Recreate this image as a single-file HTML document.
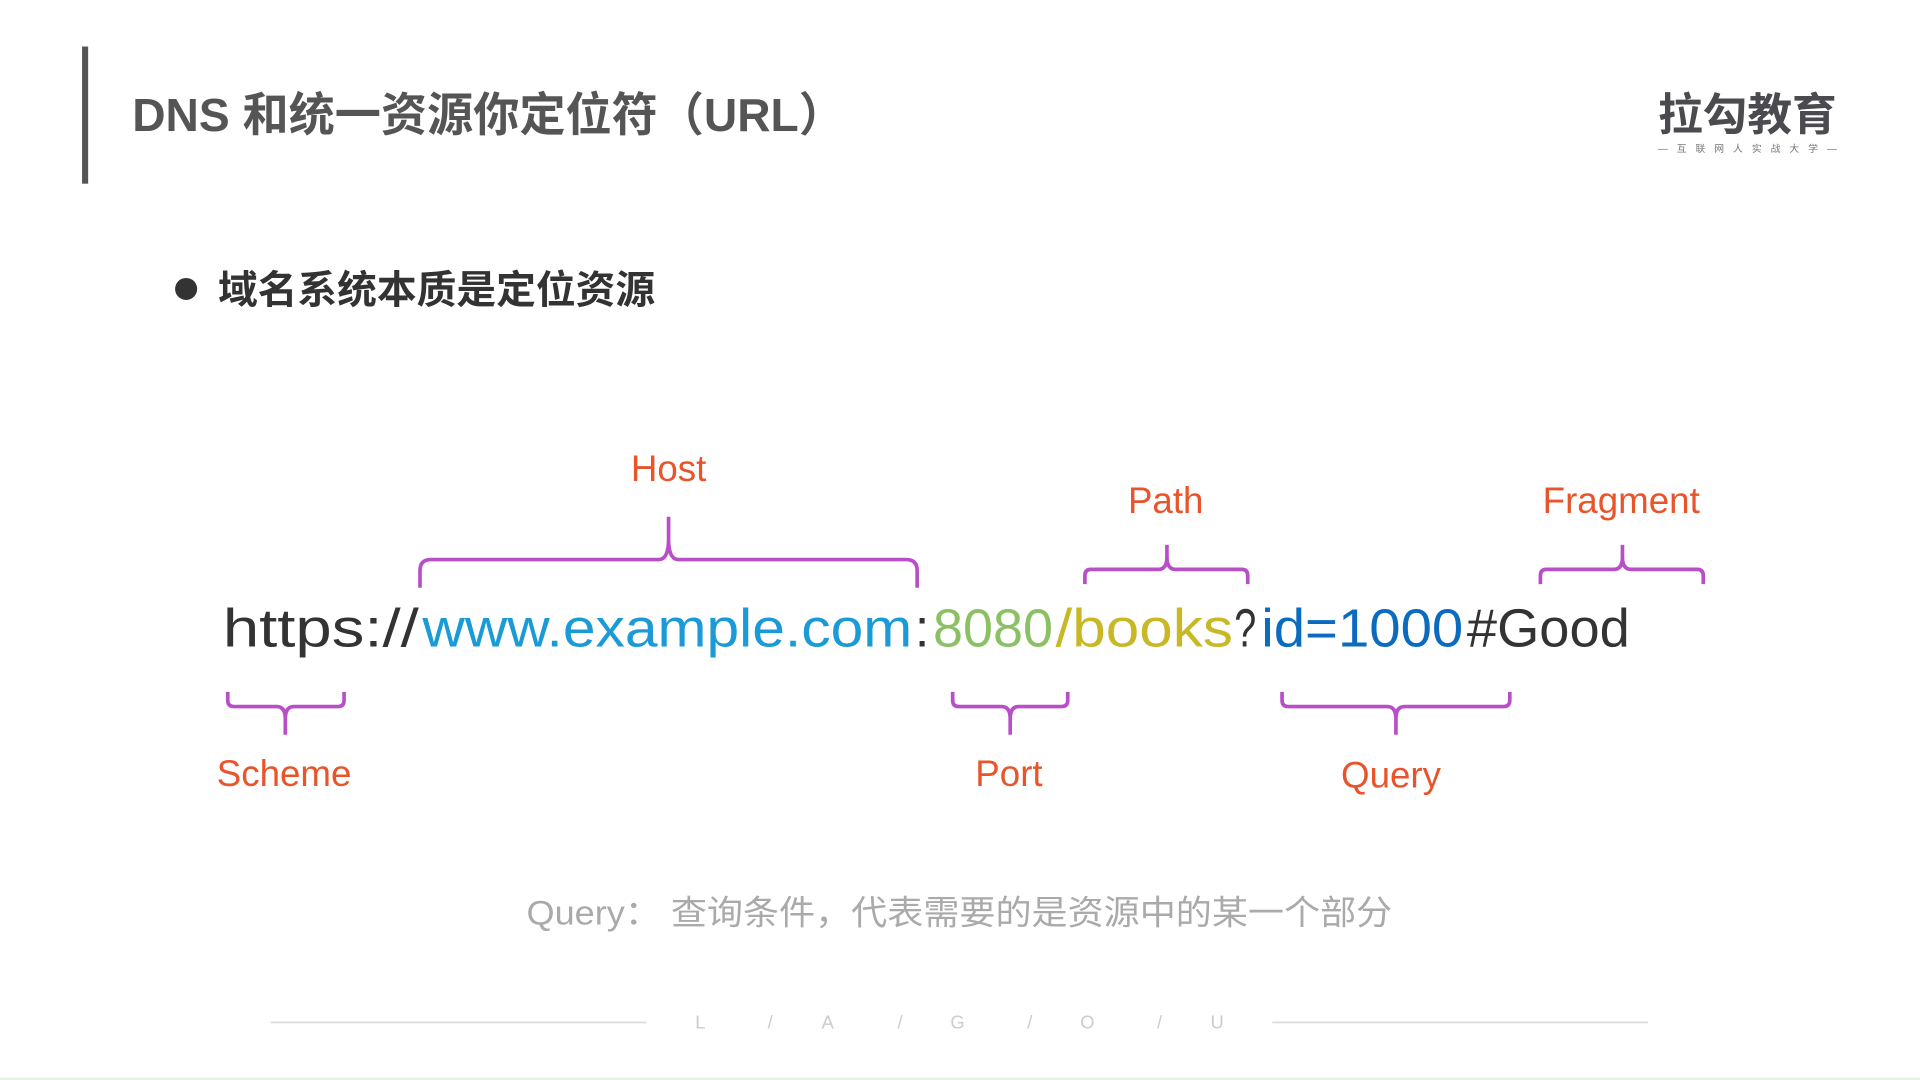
<!DOCTYPE html>
<html><head><meta charset="utf-8"><style>
html,body{margin:0;padding:0;background:#fff;width:1920px;height:1080px;overflow:hidden}
svg{display:block}
text{font-family:"Liberation Sans","Noto Sans CJK SC",sans-serif}
</style></head><body>
<svg width="1920" height="1080" viewBox="0 0 1568 882" xmlns="http://www.w3.org/2000/svg">
<rect x="0" y="0" width="1568" height="882" fill="#fff"/>
<rect x="67" y="38" width="5" height="112" fill="#555"/>
<text x="108" y="107" font-size="38" font-weight="bold" fill="#555" textLength="582" lengthAdjust="spacingAndGlyphs">DNS 和统一资源你定位符（URL）</text>
<text x="1354" y="106" font-size="36" font-weight="bold" fill="#4a4a4f" textLength="146" lengthAdjust="spacingAndGlyphs">拉勾教育</text>
<text x="1354" y="124" font-size="8" fill="#777" textLength="146" lengthAdjust="spacing">—   互 联 网 人 实 战 大 学   —</text>
<circle cx="152" cy="236" r="9" fill="#333"/>
<text x="178" y="248" font-size="32" font-weight="bold" fill="#333" textLength="357" lengthAdjust="spacingAndGlyphs">域名系统本质是定位资源</text>
<g font-size="44" font-family="Liberation Sans, sans-serif">
<text x="182" y="528" fill="#333" textLength="160" lengthAdjust="spacingAndGlyphs">https://</text>
<text x="345" y="528" fill="#1a9ad6" textLength="400" lengthAdjust="spacingAndGlyphs">www.example.com</text>
<text x="747" y="528" fill="#333" textLength="12" lengthAdjust="spacingAndGlyphs">:</text>
<text x="762" y="528" fill="#8cc065" textLength="98" lengthAdjust="spacingAndGlyphs">8080</text>
<text x="862" y="528" fill="#c9b826" textLength="145" lengthAdjust="spacingAndGlyphs">/books</text>
<text x="1008" y="528" fill="#333" textLength="18" lengthAdjust="spacingAndGlyphs">?</text>
<text x="1030" y="528" fill="#0b6bbf" textLength="165" lengthAdjust="spacingAndGlyphs">id=1000</text>
<text x="1198" y="528" fill="#333" textLength="133" lengthAdjust="spacingAndGlyphs">#Good</text>
</g>
<g fill="none" stroke="#b84fc8" stroke-width="3" stroke-linejoin="round">
<path d="M343 480 V466 Q343 457 352 457 H538 Q546 457 546 440 V422 M546 422 V440 Q546 457 554 457 H740 Q749 457 749 466 V480"/>
<path d="M886 477 V470 Q886 465 891 465 H946 Q953 465 953 455 V445 M953 445 V455 Q953 465 960 465 H1014 Q1019 465 1019 470 V477"/>
<path d="M1258 477 V470 Q1258 465 1263 465 H1318 Q1325 465 1325 455 V445 M1325 445 V455 Q1325 465 1332 465 H1386 Q1391 465 1391 470 V477"/>
<path d="M186 565 V572 Q186 577 191 577 H226 Q233 577 233 587 V600 M233 600 V587 Q233 577 240 577 H276 Q281 577 281 572 V565"/>
<path d="M778 565 V572 Q778 577 783 577 H818 Q825 577 825 587 V600 M825 600 V587 Q825 577 832 577 H867 Q872 577 872 572 V565"/>
<path d="M1047 565 V572 Q1047 577 1052 577 H1133 Q1140 577 1140 587 V600 M1140 600 V587 Q1140 577 1147 577 H1228 Q1233 577 1233 572 V565"/>
</g>
<g font-size="30" fill="#e8552b" text-anchor="middle">
<text x="546" y="393">Host</text>
<text x="952" y="419">Path</text>
<text x="1324" y="419">Fragment</text>
<text x="232" y="642">Scheme</text>
<text x="824" y="642">Port</text>
<text x="1136" y="643">Query</text>
</g>
<text x="430" y="755" font-size="28" fill="#aaa" textLength="707" lengthAdjust="spacingAndGlyphs">Query： 查询条件，代表需要的是资源中的某一个部分</text>
<line x1="221" y1="835" x2="528" y2="835" stroke="#ddd" stroke-width="1.5"/>
<line x1="1039" y1="835" x2="1346" y2="835" stroke="#ddd" stroke-width="1.5"/>
<g font-size="15" fill="#ccc" text-anchor="middle">
<text x="572" y="840">L</text><text x="629" y="840">/</text><text x="676" y="840">A</text><text x="735" y="840">/</text><text x="782" y="840">G</text><text x="841" y="840">/</text><text x="888" y="840">O</text><text x="947" y="840">/</text><text x="994" y="840">U</text>
</g>
<rect x="0" y="880" width="1568" height="2" fill="#e6f4e6"/>
</svg>
</body></html>
